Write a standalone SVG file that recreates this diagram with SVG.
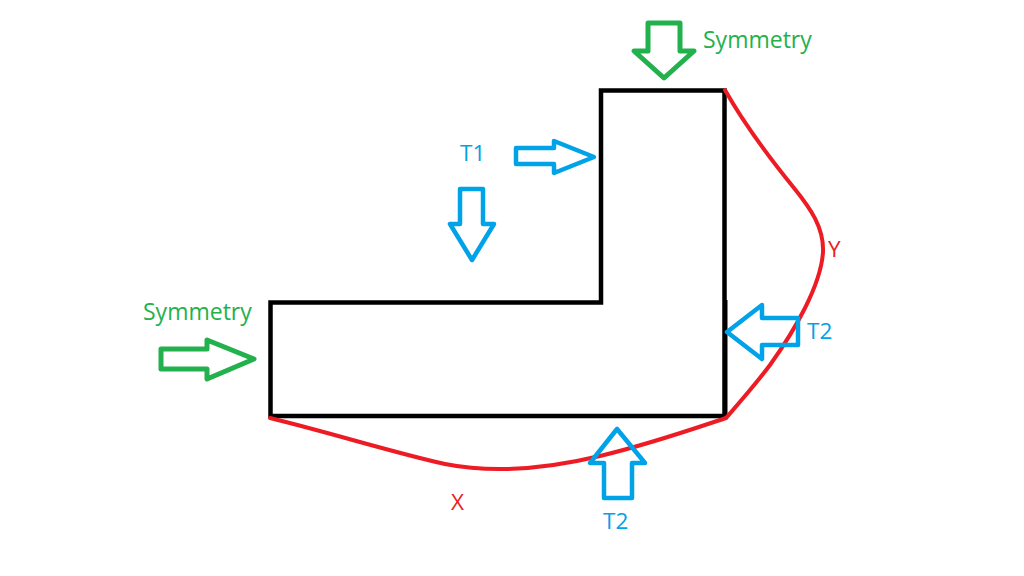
<svg xmlns="http://www.w3.org/2000/svg" width="1024" height="576" viewBox="0 0 1024 576">
<style>
.shape{fill:none;stroke:#000;stroke-width:4.500;stroke-linejoin:miter}
.step{fill:none;stroke:#000;stroke-width:3}
.curve{fill:none;stroke:#ed1c24;stroke-width:4;stroke-linecap:round;stroke-linejoin:round}
.g{fill:none;stroke:#22b14c;stroke-width:5;stroke-linejoin:round}
.b{fill:none;stroke:#00a2e8;stroke-width:4.500;stroke-linejoin:round}
text{font-family:"Open Sans","Noto Sans","Liberation Sans",sans-serif;font-size:22.500px}
.sym{font-size:23px}
.tg{fill:#22b14c}.tb{fill:#00a2e8}.tr{fill:#ed1c24}
</style>
<rect width="1024" height="576" fill="#fff"/>
<g id="body"><path class="shape" d="M270.500 302.500H601V90.500H724.500V416H270.500Z"/><path class="step" d="M726 300V418"/></g>
<g id="connectors">
<path id="curve-x" class="curve" d="M270 418C335 434 395 453 445 464C495 474 550 468 600 456C650 444 690 430 726 418"/>
<path id="curve-y" class="curve" d="M725 90C743 122 768 156 794 188C811 209 824 228 823 252C821 285 795 330 770 365C755 385 740 402 726 418"/>
<path id="arrow-sym-top" class="g" d="M648 23H680V51H694L664 78L634 51H648Z"/>
<path id="arrow-sym-left" class="g" d="M161 349H207V340L254 359L207 379V369H161Z"/>
<path id="arrow-t1-right" class="b" d="M516 148H554V141L594 157L554 173V164H516Z"/>
<path id="arrow-t1-down" class="b" d="M460 189H483V224H494L472 260L450 224H460Z"/>
<path id="arrow-t2-right" class="b" d="M798 318H762V305L727 332L762 359V345H798Z"/>
<path id="arrow-t2-bottom" class="b" d="M604 498H632V463H645L617 429L590 463H604Z"/>
</g>
<g id="label-sym-top"><text class="tg sym" x="703" y="48">Symmetry</text></g>
<g id="label-sym-left"><text class="tg sym" x="143" y="320">Symmetry</text></g>
<g id="label-t1"><text class="tb" x="460" y="161">T1</text></g>
<g id="label-t2-right"><text class="tb" x="807" y="339">T2</text></g>
<g id="label-t2-bottom"><text class="tb" x="603" y="529">T2</text></g>
<g id="label-x"><text class="tr" x="451" y="510">X</text></g>
<g id="label-y"><text class="tr" x="828" y="257">Y</text></g>
</svg>
